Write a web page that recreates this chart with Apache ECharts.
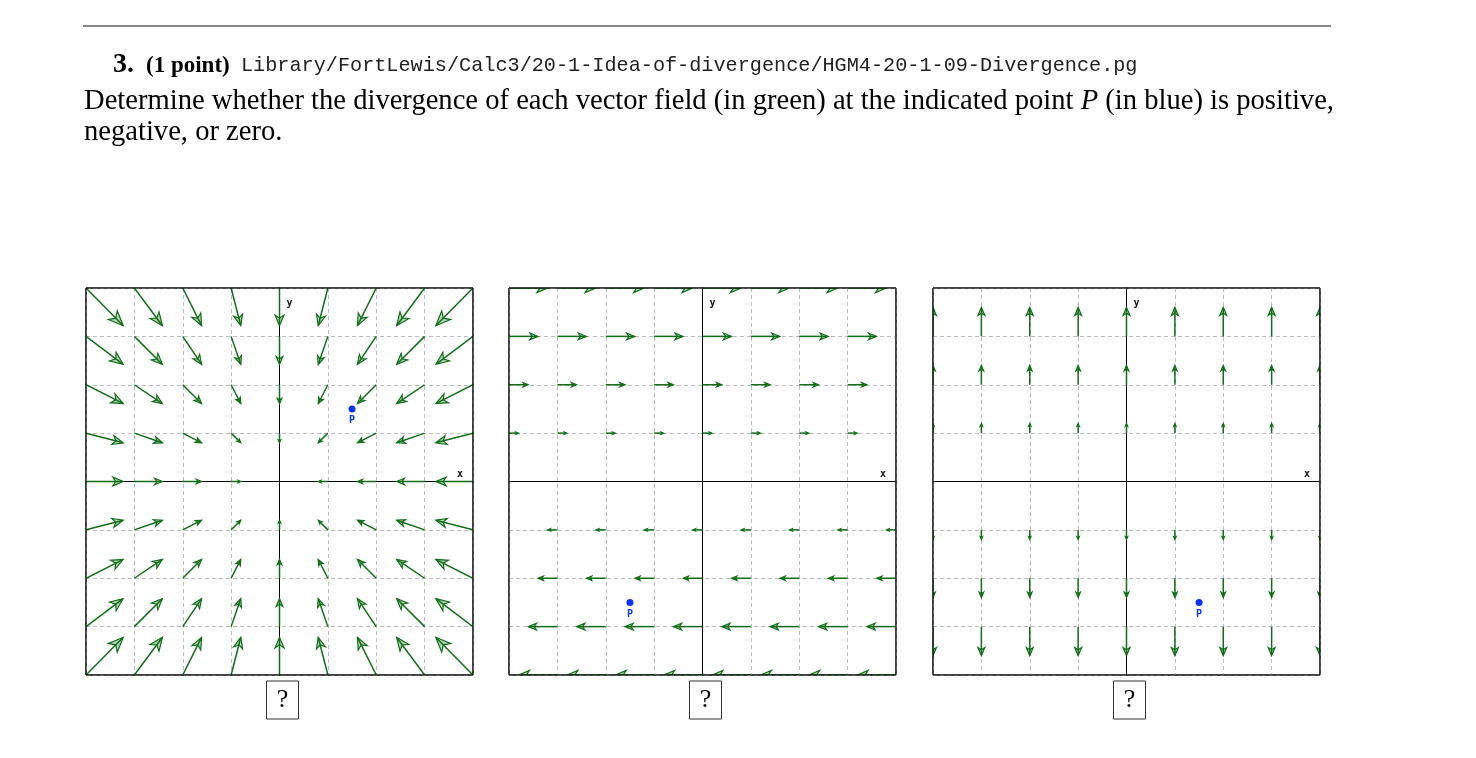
<!DOCTYPE html>
<html>
<head>
<meta charset="utf-8">
<script src="https://cdn.jsdelivr.net/npm/echarts@6/dist/echarts.min.js"></script>
<style>
html,body{margin:0;padding:0;background:#fff;}
#main{width:1476px;height:758px;}
</style>
</head>
<body>
<div id="main"></div>
<script>
// ---- data ----
const gridTicks = [-4, -3, -2, -1, 0, 1, 2, 3, 4];          // sample positions on both axes
// Plot 1: arrow x-component per column (x = -4..4), y-component per row (y = -4..4)
const field1U = [0.77, 0.58, 0.39, 0.20, 0, -0.20, -0.39, -0.58, -0.77];
const field1V = [0.78, 0.58, 0.39, 0.20, 0, -0.20, -0.39, -0.58, -0.78];
// Plot 2: horizontal arrows, x-component per row (y = -4..4)
const field2U = [-0.80, -0.60, -0.40, -0.20, 0, 0.20, 0.40, 0.60, 0.80];
// Plot 3: vertical arrows, y-component per row (y = -4..4)
const field3V = [-0.80, -0.60, -0.40, -0.20, 0, 0.20, 0.40, 0.60, 0.80];
// Point P in each plot
const pointP = [[1.5, 1.5], [-1.5, -2.5], [1.5, -2.5]];
const headerNum = '3.';
const headerPts = '(1 point)';
const headerPath = 'Library/FortLewis/Calc3/20-1-Idea-of-divergence/HGM4-20-1-09-Divergence.pg';
const questionA = 'Determine whether the divergence of each vector field (in green) at the indicated point ';
const questionB = ' (in blue) is positive,';
const questionC = 'negative, or zero.';

// ---- build arrow tables ----
function arrows1() {
  const out = [];
  gridTicks.forEach((x, i) => gridTicks.forEach((y, j) => out.push([x, y, field1U[i], field1V[j]])));
  return out;
}
function arrows2() {
  const out = [];
  gridTicks.forEach((x) => gridTicks.forEach((y, j) => out.push([x, y, field2U[j], 0])));
  return out;
}
function arrows3() {
  const out = [];
  gridTicks.forEach((x) => gridTicks.forEach((y, j) => out.push([x, y, 0, field3V[j]])));
  return out;
}

const GREEN = '#0f6e16';
const BLUE = '#0a32ff';

function renderArrow(params, api) {
  const x = api.value(0), y = api.value(1), dx = api.value(2), dy = api.value(3);
  const a = api.coord([x, y]);
  const b = api.coord([x + dx, y + dy]);
  const vx = b[0] - a[0], vy = b[1] - a[1];
  const len = Math.hypot(vx, vy);
  if (len < 0.5) return null;
  const ux = vx / len, uy = vy / len;
  const hl = len * 0.28;            // head length
  const hw = hl * 0.42;             // half width
  const bx = b[0] - ux * hl, by = b[1] - uy * hl;
  const nx = -uy, ny = ux;
  const notch = [b[0] - ux * hl * 0.72, b[1] - uy * hl * 0.72];
  return {
    type: 'group',
    children: [
      { type: 'line', shape: { x1: a[0], y1: a[1], x2: b[0] - ux * 1, y2: b[1] - uy * 1 },
        style: { stroke: GREEN, lineWidth: 1.5 } },
      { type: 'polygon', shape: { points: [b, [bx + nx * hw, by + ny * hw], notch, [bx - nx * hw, by - ny * hw]] },
        style: { stroke: GREEN, lineWidth: 1.2, fill: 'rgba(15,110,22,0.3)' } }
    ]
  };
}

const lefts = [86, 509, 933];
const TOP = 288, SIZE = 387;

const grids = [], xAxes = [], yAxes = [], series = [];
const tables = [arrows1(), arrows2(), arrows3()];
for (let k = 0; k < 3; k++) {
  grids.push({ left: lefts[k], top: TOP, width: SIZE, height: SIZE, show: true,
    borderColor: '#000', borderWidth: 1, backgroundColor: '#fff' });
  const axisCommon = {
    type: 'value', min: -4, max: 4, interval: 1, gridIndex: k,
    axisLine: { show: true, onZero: true, lineStyle: { color: '#000', width: 1 } },
    axisTick: { show: false }, axisLabel: { show: false },
    splitLine: { show: true, lineStyle: { color: '#bdbdbd', width: 1, type: [4, 3] } }
  };
  xAxes.push(Object.assign({}, axisCommon));
  yAxes.push(Object.assign({}, axisCommon));
  series.push({
    type: 'custom', xAxisIndex: k, yAxisIndex: k, clip: true, z: 3,
    renderItem: renderArrow, data: tables[k], silent: true
  });
  series.push({
    type: 'scatter', xAxisIndex: k, yAxisIndex: k, z: 5, symbolSize: 7,
    itemStyle: { color: BLUE, opacity: 1 }, data: [pointP[k]], silent: true,
    label: { show: true, formatter: 'P', position: 'bottom', distance: 3,
      color: BLUE, fontSize: 10, fontWeight: 'bold', fontFamily: 'DejaVu Sans Mono' }
  });
}

const chart = echarts.init(document.getElementById('main'), null, { renderer: 'canvas' });
chart.setOption({
  animation: false,
  backgroundColor: '#fff',
  grid: grids, xAxis: xAxes, yAxis: yAxes, series: series
});

// graphic overlay: header, axis letters, answer boxes, frames
const serif = 'Liberation Serif';
const graphics = [
  { type: 'line', shape: { x1: 83, y1: 26, x2: 1331, y2: 26 }, style: { stroke: '#858585', lineWidth: 2 } },
  { type: 'text', x: 113, y: 65, style: { text: headerNum, fontFamily: serif, fontWeight: 'bold', fontSize: 28, fill: '#000', verticalAlign: 'middle' } },
  { type: 'text', x: 146, y: 66, style: { text: headerPts, fontFamily: serif, fontWeight: 'bold', fontSize: 23, fill: '#000', verticalAlign: 'middle' } },
  { type: 'text', x: 241, y: 66, style: { text: headerPath, fontFamily: 'Liberation Mono', fontSize: 20.2, fill: '#222', verticalAlign: 'middle' } },
  { type: 'text', x: 84, y: 101, style: {
      text: '{r|' + questionA + '}{i|P}{r|' + questionB + '}', verticalAlign: 'middle',
      rich: {
        r: { fontFamily: serif, fontSize: 28.6, fill: '#000' },
        i: { fontFamily: serif, fontStyle: 'italic', fontSize: 28.6, fill: '#000' }
      } } },
  { type: 'text', x: 84, y: 132, style: { text: questionC, fontFamily: serif, fontSize: 28.6, fill: '#000', verticalAlign: 'middle' } }
];
for (let k = 0; k < 3; k++) {
  const o = chart.convertToPixel({ gridIndex: k }, [0, 0]);
  const tr = chart.convertToPixel({ gridIndex: k }, [4, 4]);
  const bl = chart.convertToPixel({ gridIndex: k }, [-4, -4]);
  graphics.push({ type: 'rect', z: 100, shape: { x: bl[0], y: tr[1], width: tr[0] - bl[0], height: bl[1] - tr[1] },
    style: { fill: null, stroke: '#000', lineWidth: 1 } });
  graphics.push({ type: 'text', x: o[0] + 7, y: tr[1] + 10, style: { text: 'y', fontFamily: 'DejaVu Sans Mono', fontWeight: 'bold', fontSize: 10, fill: '#111' } });
  graphics.push({ type: 'text', x: tr[0] - 16, y: o[1] - 12, style: { text: 'x', fontFamily: 'DejaVu Sans Mono', fontWeight: 'bold', fontSize: 10, fill: '#111' } });
  const cx = (o[0]) + 3;
  graphics.push({ type: 'rect', shape: { x: cx - 16, y: 681, width: 32, height: 38 }, style: { fill: '#fff', stroke: '#333', lineWidth: 1 } });
  graphics.push({ type: 'text', x: cx, y: 700, style: { text: '?', fontFamily: serif, fontSize: 26, fill: '#000', align: 'center', verticalAlign: 'middle' } });
}
chart.setOption({ graphic: graphics });
</script>
</body>
</html>
